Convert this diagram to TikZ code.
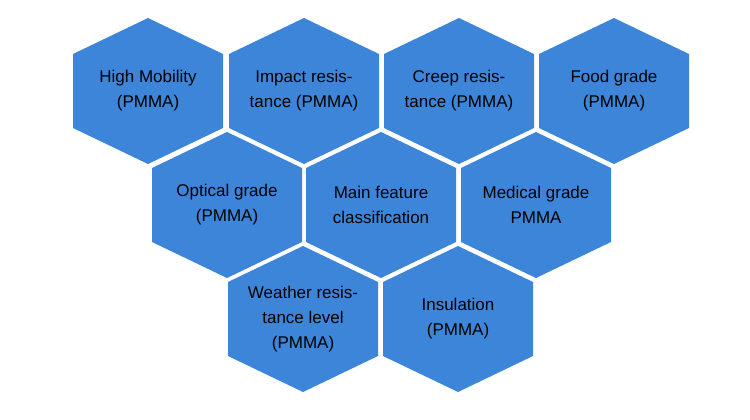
\documentclass[tikz,border=0pt]{standalone}
\usepackage{fontspec}
\setmainfont{Liberation Sans}
\definecolor{hexblue}{HTML}{3D85D8}
\begin{document}
\begin{tikzpicture}[x=1pt,y=-1pt,
  hexa/.style={fill=hexblue},
  lbl/.style={align=center,font=\fontsize{17}{25}\selectfont,text=black}]
\useasboundingbox (0,0) rectangle (750,420);
\newcommand\hexat[4]{%
  \fill[hexa] (#1,#2) ++(0,-73) -- ++(75,36) -- ++(0,74) -- ++(-75,36) -- ++(-75,-36) -- ++(0,-74) -- cycle;
  \node[lbl] (#3) at (#1,#2) {#4};}
\hexat{148}{91}{a}{High Mobility\\(PMMA)}
\hexat{304}{91}{b}{Impact resis-\\tance (PMMA)}
\hexat{459}{91}{c}{Creep resis-\\tance (PMMA)}
\hexat{614}{91}{d}{Food grade\\(PMMA)}
\hexat{227}{205}{e}{Optical grade\\(PMMA)}
\hexat{381}{205}{f}{Main feature\\classification}
\hexat{536}{205}{g}{Medical grade\\PMMA}
\hexat{303}{319}{h}{Weather resis-\\tance level\\(PMMA)}
\hexat{458}{319}{i}{Insulation\\(PMMA)}
\end{tikzpicture}
\end{document}
